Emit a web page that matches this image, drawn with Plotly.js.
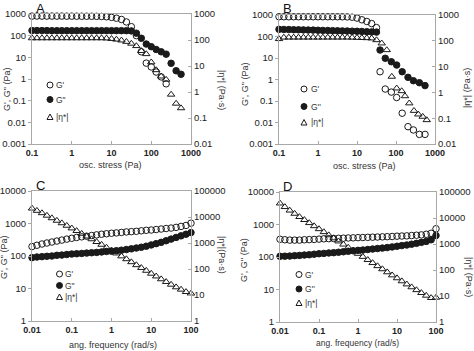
<!DOCTYPE html>
<html><head><meta charset="utf-8">
<script src="https://cdn.plot.ly/plotly-3.0.1.min.js"></script>
<style>html,body{margin:0;padding:0;background:#fff}#chart{width:474px;height:351px}</style>
</head><body><div id="chart"></div>
<script>
// ---------- Panel A (stress sweep) ----------
const xA = [0.1,0.133,0.178,0.237,0.316,0.422,0.562,0.75,1,1.33,1.78,2.37,3.16,4.22,5.62,7.5,10,13.3,17.8,23.7,31.6,42.2,56.2,75,100,133,178,237,316,422,562];
const gpA = [800,805,800,800,800,798,800,795,795,792,790,788,785,780,770,745,700,640,560,430,260,100,18,5.4,3.6,2.1,1.25,0.6,null,null,null];
const gppA = [172,172,171,171,170,170,170,170,170,170,170,170,170,170,170,170,170,170,170,170,165,130,76,41,31,23,18,14,5.3,2.4,1.65];
const etaA = [118,118,118,118,118,118,118,118,118,118,118,118,118,118,118,116,111,105,97,86,73,59,38,29,14,7,4,3,0.8,0.36,0.24];

// ---------- Panel B (stress sweep) ----------
const xB = [0.1,0.133,0.178,0.237,0.316,0.422,0.562,0.75,1,1.33,1.78,2.37,3.16,4.22,5.62,7.5,10,13.3,17.8,23.7,31.6,39,53,76,104,144,203,279,398,555];
const gpB = [830,830,830,830,830,830,830,830,830,830,830,830,828,825,815,790,720,600,500,400,260,2.3,0.36,0.26,0.145,0.027,0.0064,0.0045,0.0028,0.0028];
const gppB = [215,212,210,207,205,203,200,198,195,192,190,187,185,182,180,177,175,172,168,164,160,23.5,9.7,6.7,4.7,2.3,1.26,0.88,0.71,0.52];
const xEtaB = [0.1,0.133,0.178,0.237,0.316,0.422,0.562,0.75,1,1.33,1.78,2.37,3.16,4.22,5.62,7.5,10,13.3,17.8,23.7,31.6,43,58,78,104,140,170,219,289,373,484,614];
const etaB = [118,135,135,135,135,135,135,135,135,135,135,135,135,135,135,134,132,130,128,125,107,80,44,4.1,1.44,1.13,0.72,0.38,0.195,0.141,0.115,0.085];

// ---------- Panel C (frequency sweep) ----------
const xC = [0.01,0.0133,0.0178,0.0237,0.0316,0.0422,0.0562,0.075,0.1,0.133,0.178,0.237,0.316,0.422,0.562,0.75,1,1.33,1.78,2.37,3.16,4.22,5.62,7.5,10,13.3,17.8,23.7,31.6,42.2,56.2,75,100];
const gpC = [195,214,234,251,269,288,309,331,351,372,389,407,427,447,468,484,501,513,531,550,562,575,596,617,631,653,676,700,724,759,813,871,1023];
const gppC = [89,93,95.5,98,100,105,107,111,115,117.5,120,123,126,129,133,138,141,146,151,158,166,176,186,200,219,240,263,295,331,372,417,468,525];
const etaC = [21400,17500,14200,11370,9080,7260,5820,4655,3690,2930,2287,1795,1409,1103,866,671,520,401,310,241,185,142,111,86.5,66.8,52.3,40.8,32.1,25.2,20.0,16.3,13.2,11.5];

// ---------- Panel D (frequency sweep) ----------
const xD = [0.01,0.0133,0.0178,0.0237,0.0316,0.0422,0.0562,0.075,0.1,0.133,0.178,0.237,0.316,0.422,0.562,0.75,1,1.33,1.78,2.37,3.16,4.22,5.62,7.5,10,13.3,17.8,23.7,31.6,42.2,56.2,75,100];
const gpD = [351,339,331,331,331,339,343,347,355,363,367,372,376,380,385,389,394,398,403,407,412,417,422,427,437,442,447,457,468,479,501,537,741];
const gppD = [105,106,107,110,112,115,117.5,122,126,129,133,136,140,145,150,155,160,164,170,176,182,188,195,204,214,224,234,248,263,282,302,339,457];
const etaD = [36640,26700,19540,14720,11060,8480,6450,4904,3767,2896,2193,1671,1270,964,735,558,425,324,246,187,142.5,108.4,82.7,63.1,48.7,37.3,28.3,21.9,17.0,13.2,10.4,8.47,8.71];

const stressTicks = [0.1,1,10,100,1000];
const stressTickText = ['0.1','1','10','100','1000'];
const freqTicks = [0.01,0.1,1,10,100];
const freqTickText = ['0.01','0.1','1','10','100'];
const gTicksAB = [0.001,0.01,0.1,1,10,100,1000];
const gTickTextAB = ['0.001','0.01','0.1','1','10','100','1000'];
const etaTicksAB = [0.01,0.1,1,10,100,1000];
const etaTickTextAB = ['0.01','0.1','1','10','100','1000'];
const gTicksCD = [1,10,100,1000,10000];
const gTickTextCD = ['1','10','100','1000','10000'];
const etaTicksCD = [1,10,100,1000,10000,100000];
const etaTickTextCD = ['1','10','100','1000','10000','100000'];

const W = 474, H = 351;
const fx = p => p / W, fy = p => 1 - p / H;
const ink = '#1a1a1a';
const FONT = 'Liberation Sans, Arial, sans-serif';

function tr(x, y, xa, ya, sym) {
  return {x: x, y: y, xaxis: xa, yaxis: ya, type: 'scatter', mode: 'markers', showlegend: false,
    cliponaxis: false,
    marker: {symbol: sym, size: 6.5, color: ink, line: {color: ink, width: 1}}};
}
const data = [
  tr(xA, etaA, 'x', 'y2', 'triangle-up-open'),
  tr(xA, gpA, 'x', 'y', 'circle-open'),
  tr(xA, gppA, 'x', 'y', 'circle'),
  tr(xEtaB, etaB, 'x2', 'y4', 'triangle-up-open'),
  tr(xB, gpB, 'x2', 'y3', 'circle-open'),
  tr(xB, gppB, 'x2', 'y3', 'circle'),
  tr(xC, etaC, 'x3', 'y6', 'triangle-up-open'),
  tr(xC, gpC, 'x3', 'y5', 'circle-open'),
  tr(xC, gppC, 'x3', 'y5', 'circle'),
  tr(xD, etaD, 'x4', 'y8', 'triangle-up-open'),
  tr(xD, gpD, 'x4', 'y7', 'circle-open'),
  tr(xD, gppD, 'x4', 'y7', 'circle')
];

const lineC = '#a8a8a8';
function xaxis(dom, anchor, range, tv, tt) {
  return {type: 'log', domain: dom, anchor: anchor, range: range, tickvals: tv, ticktext: tt,
    ticks: 'inside', ticklen: 3, tickcolor: lineC, showline: true, linecolor: lineC, linewidth: 1,
    mirror: true, showgrid: false, zeroline: false,
    tickfont: {family: FONT, size: 9, color: '#222', weight: 'bold'}};
}
function yaxis(dom, anchor, range, tv, tt) {
  return {type: 'log', domain: dom, anchor: anchor, range: range, tickvals: tv, ticktext: tt,
    ticks: 'outside', ticklen: 3, tickcolor: lineC, showline: true, linecolor: lineC, linewidth: 1,
    showgrid: false, zeroline: false, tickfont: {family: FONT, size: 9.5, color: '#222'}};
}
function yaxisR(over, anchor, range, tv, tt) {
  return {type: 'log', overlaying: over, side: 'right', anchor: anchor, range: range, tickvals: tv, ticktext: tt,
    ticks: 'inside', ticklen: 3, tickcolor: lineC, showline: true, linecolor: lineC, linewidth: 1,
    showgrid: false, zeroline: false, tickfont: {family: FONT, size: 9.5, color: '#222'}};
}

const domA = [fx(32), fx(191)], domAy = [fy(144), fy(14)];
const domB = [fx(279), fx(435)], domBy = [fy(144), fy(15)];
const domC = [fx(32), fx(191)], domCy = [fy(321), fy(191)];
const domD = [fx(280), fx(436)], domDy = [fy(322), fy(192)];

const annotations = [];
const shapes = [];
function txt(x, y, t, opts) {
  annotations.push(Object.assign({xref: 'paper', yref: 'paper', x: fx(x), y: fy(y), text: t, showarrow: false,
    font: {family: FONT, size: 9, color: '#333'}, xanchor: 'center', yanchor: 'middle'}, opts || {}));
}
// panel letters
const letterFont = {family: 'Liberation Sans, Arial, sans-serif', size: 13, color: '#111'};
txt(40, 0, 'A', {font: letterFont, yanchor: 'top', borderpad: 0});
txt(287, 0, 'B', {font: letterFont, yanchor: 'top', borderpad: 0});
txt(40, 185, 'C', {font: letterFont});
txt(287, 187, 'D', {font: letterFont});
// axis titles
txt(110, 165, 'osc. stress (Pa)');
txt(364, 165.5, 'osc. stress (Pa)');
txt(113, 345, 'ang. frequency (rad/s)');
txt(357, 343, 'ang. frequency (rad/s)', {font: {family: FONT, size: 8.5, color: '#333'}});
txt(7, 90, "G', G\" (Pa)", {textangle: -90});
txt(245, 85, "G', G\" (Pa)", {textangle: -90});
txt(4, 258, "G', G\" (Pa)", {textangle: -90});
txt(244, 260, "G', G'' (Pa)", {textangle: -90});
txt(222, 90, '|η*| (Pa·s)', {textangle: 90});
txt(467, 88, '|η*| (Pa·s)', {textangle: -90});
txt(222, 255, '|η*|(Pa·s)', {textangle: 90});
txt(469, 277, '|η*| (Pa·s)', {textangle: 90});

// legends: symbol shapes + text
function sym(kind, cx, cy) {
  const r = 3;
  const base = {xref: 'paper', yref: 'paper', line: {color: ink, width: 1}};
  if (kind === 'tri') {
    const p = `M ${fx(cx - r)} ${fy(cy + 2.5)} L ${fx(cx + r)} ${fy(cy + 2.5)} L ${fx(cx)} ${fy(cy - 3)} Z`;
    shapes.push(Object.assign(base, {type: 'path', path: p, fillcolor: 'rgba(0,0,0,0)'}));
  } else {
    shapes.push(Object.assign(base, {type: 'circle', x0: fx(cx - r), x1: fx(cx + r), y0: fy(cy + r), y1: fy(cy - r),
      fillcolor: kind === 'fill' ? ink : 'rgba(0,0,0,0)'}));
  }
}
function legend(sx, tx, ys, labels) {
  const kinds = ['open', 'fill', 'tri'];
  ys.forEach((y, i) => {
    sym(kinds[i], sx, y);
    txt(tx, y, labels[i], {xanchor: 'left', font: {family: FONT, size: 8.5, color: '#333'}});
  });
}
legend(50, 53.5, [85, 99.5, 117], ["G'", "G\"", "|η*|"]);
legend(304, 309, [89, 106.5, 122.5], ["G'", "G''", "|η*|"]);
legend(59.5, 63, [274, 285.5, 297], ["G'", "G\"", "|η*|"]);
legend(299, 303, [274.5, 289, 303], ["G'", "G''", "|η*|"]);

const layout = {
  width: W, height: H, margin: {l: 0, r: 0, t: 0, b: 0}, paper_bgcolor: '#fff', plot_bgcolor: 'rgba(0,0,0,0)',
  showlegend: false,
  xaxis: xaxis(domA, 'y', [-1, 3], stressTicks, stressTickText),
  yaxis: yaxis(domAy, 'x', [-3, 3], gTicksAB, gTickTextAB),
  yaxis2: yaxisR('y', 'x', [-2, 3], etaTicksAB, etaTickTextAB),
  xaxis2: xaxis(domB, 'y3', [-1, 3], stressTicks, stressTickText),
  yaxis3: yaxis(domBy, 'x2', [-3, 3], gTicksAB, gTickTextAB),
  yaxis4: yaxisR('y3', 'x2', [-2, 3], etaTicksAB, etaTickTextAB),
  xaxis3: xaxis(domC, 'y5', [-2, 2], freqTicks, freqTickText),
  yaxis5: yaxis(domCy, 'x3', [0, 4], gTicksCD, gTickTextCD),
  yaxis6: yaxisR('y5', 'x3', [0, 5], etaTicksCD, etaTickTextCD),
  xaxis4: xaxis(domD, 'y7', [-2, 2], freqTicks, freqTickText),
  yaxis7: yaxis(domDy, 'x4', [0, 4], gTicksCD, gTickTextCD),
  yaxis8: yaxisR('y7', 'x4', [0, 5], etaTicksCD, etaTickTextCD),
  annotations: annotations,
  shapes: shapes
};
Plotly.newPlot('chart', data, layout, {staticPlot: true, displayModeBar: false});
</script></body></html>
